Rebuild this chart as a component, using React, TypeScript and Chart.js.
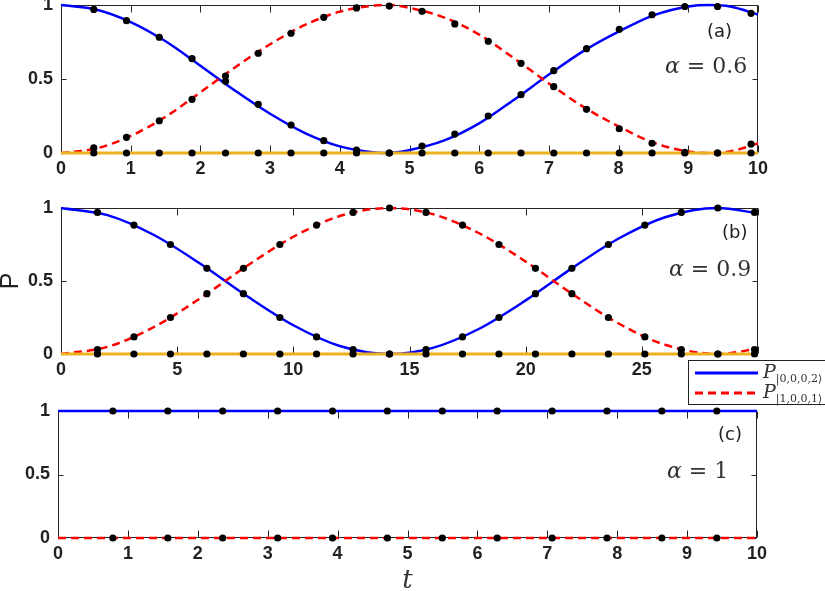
import React, { useEffect, useRef } from "react";
import { Chart, registerables } from "chart.js";

Chart.register(...registerables);

// ---------------- Panel (a): alpha = 0.6 ----------------
const tCurveA = [0, 0.5, 1, 1.5, 2, 2.5, 3, 3.5, 4, 4.5, 4.7, 5, 5.5, 6, 6.5, 7, 7.5, 8, 8.5, 9, 9.3, 9.6, 10];
const blueCurveA = [1, 0.97, 0.885, 0.755, 0.59, 0.42, 0.265, 0.135, 0.045, 0.004, 0, 0.02, 0.085, 0.2, 0.36, 0.53, 0.69, 0.82, 0.93, 0.99, 1, 0.99, 0.935];
const redCurveA = [0, 0.03, 0.115, 0.245, 0.41, 0.58, 0.735, 0.865, 0.955, 0.996, 1, 0.98, 0.915, 0.8, 0.64, 0.47, 0.31, 0.18, 0.07, 0.01, 0, 0.01, 0.065];
const tFlatA = [0, 10];
const orangeCurveA = [0, 0];
const tDotsA = [0.47, 0.94, 1.41, 1.88, 2.36, 2.83, 3.3, 3.77, 4.24, 4.71, 5.18, 5.65, 6.13, 6.6, 7.07, 7.54, 8.01, 8.48, 8.95, 9.42, 9.9];
const blueDotsA = [0.97, 0.894, 0.782, 0.637, 0.484, 0.329, 0.189, 0.083, 0.02, 0, 0.047, 0.128, 0.25, 0.394, 0.556, 0.705, 0.836, 0.934, 0.99, 0.99, 0.944];
const redDotsA = [0.034, 0.106, 0.218, 0.363, 0.52, 0.674, 0.809, 0.917, 0.98, 0.993, 0.957, 0.872, 0.755, 0.606, 0.448, 0.295, 0.164, 0.066, 0.005, 0, 0.06];
const thirdDotsA = [0, 0, 0, 0, 0, 0, 0, 0, 0, 0, 0, 0, 0, 0, 0, 0, 0, 0, 0, 0, 0];
const xTicksA = [0, 1, 2, 3, 4, 5, 6, 7, 8, 9, 10];

// ---------------- Panel (b): alpha = 0.9 ----------------
const tCurveB = [0, 2, 4, 6, 8, 10, 12, 14.14, 16, 18, 20, 22, 24, 26, 28.27, 30];
const blueCurveB = [1, 0.951, 0.815, 0.618, 0.397, 0.197, 0.055, 0, 0.042, 0.173, 0.367, 0.588, 0.791, 0.937, 1, 0.964];
const redCurveB = [0, 0.049, 0.185, 0.382, 0.603, 0.803, 0.945, 1, 0.958, 0.827, 0.633, 0.412, 0.209, 0.063, 0, 0.036];
const tFlatB = [0, 30];
const orangeCurveB = [0, 0];
const tDotsB = [1.57, 3.14, 4.71, 6.28, 7.85, 9.42, 11.0, 12.57, 14.14, 15.71, 17.28, 18.85, 20.42, 21.99, 23.56, 25.13, 26.7, 28.27, 29.85];
const blueDotsB = [0.97, 0.883, 0.75, 0.587, 0.413, 0.25, 0.117, 0.03, 0, 0.03, 0.117, 0.25, 0.413, 0.587, 0.75, 0.883, 0.97, 1, 0.97];
const redDotsB = [0.03, 0.117, 0.25, 0.413, 0.587, 0.75, 0.883, 0.97, 1, 0.97, 0.883, 0.75, 0.587, 0.413, 0.25, 0.117, 0.03, 0, 0.03];
const thirdDotsB = [0, 0, 0, 0, 0, 0, 0, 0, 0, 0, 0, 0, 0, 0, 0, 0, 0, 0, 0];
const xTicksB = [0, 5, 10, 15, 20, 25, 30];

// ---------------- Panel (c): alpha = 1 ----------------
const tCurveC = [0, 10];
const blueCurveC = [1, 1];
const redCurveC = [0, 0];
const tDotsC = [0.785, 1.571, 2.356, 3.142, 3.927, 4.712, 5.498, 6.283, 7.069, 7.854, 8.639, 9.425];
const blueDotsC = [1, 1, 1, 1, 1, 1, 1, 1, 1, 1, 1, 1];
const redDotsC = [0, 0, 0, 0, 0, 0, 0, 0, 0, 0, 0, 0];
const xTicksC = [0, 1, 2, 3, 4, 5, 6, 7, 8, 9, 10];

const yTicks = [0, 0.5, 1];
const legendSubscripts = ["|0,0,0,2\u27E9", "|1,0,0,1\u27E9"];

const BLUE = "#0000ff";
const RED = "#ff0000";
const ORANGE = "#EDB120";
const AXIS = "#262626";

const pts = (xs: number[], ys: number[]) => xs.map((x, i) => ({ x, y: ys[i] }));

const framePlugin = {
  id: "frame",
  beforeDatasetsDraw(chart: any) {
    const { ctx, chartArea: a, scales } = chart;
    const xs = scales.x;
    const ys = scales.y;
    const L = Math.round(a.left) + 0.5;
    const R = Math.round(a.right) - 0.5;
    const T = Math.round(a.top) + 0.5;
    const B = Math.round(a.bottom) - 0.5;
    ctx.save();
    ctx.strokeStyle = AXIS;
    ctx.lineWidth = 1;
    ctx.strokeRect(L, T, R - L, B - T);
    ctx.beginPath();
    for (const t of xs.ticks) {
      const px = Math.round(xs.getPixelForValue(t.value)) + 0.5;
      ctx.moveTo(px, B);
      ctx.lineTo(px, B - 7);
      ctx.moveTo(px, T);
      ctx.lineTo(px, T + 7);
    }
    for (const t of ys.ticks) {
      const py = Math.round(ys.getPixelForValue(t.value)) + 0.5;
      ctx.moveTo(L, py);
      ctx.lineTo(L + 5, py);
      ctx.moveTo(R, py);
      ctx.lineTo(R - 5, py);
    }
    ctx.stroke();
    ctx.restore();
  },
  afterDraw(chart: any, _a: any, opts: any) {
    const { ctx, chartArea: a } = chart;
    ctx.save();
    ctx.textBaseline = "middle";
    ctx.textAlign = "left";
    ctx.fillStyle = "#222";
    ctx.font = '18px "DejaVu Sans"';
    ctx.fillText(opts.tag, a.right + opts.tagDx, a.top + opts.tagDy);
    ctx.fillStyle = "#333";
    let x = a.right + opts.alphaDx;
    const y = a.top + opts.alphaDy;
    ctx.font = 'italic 22px "DejaVu Serif"';
    ctx.fillText("\u03B1", x, y);
    x += ctx.measureText("\u03B1").width;
    ctx.font = '22px "DejaVu Serif"';
    ctx.fillText(" = " + opts.alpha, x, y);

    if (opts.legend) {
      const bx = 688, by = 168;
      ctx.fillStyle = "#fff";
      ctx.fillRect(bx, by, 150, 45);
      ctx.strokeStyle = "#222";
      ctx.lineWidth = 1;
      ctx.strokeRect(bx + 0.5, by + 0.5, 150, 44);
      const rows = [
        { color: BLUE, dash: [] as number[], sub: legendSubscripts[0], ly: by + 13, base: by + 18 },
        { color: RED, dash: [8, 5], sub: legendSubscripts[1], ly: by + 33, base: by + 38 },
      ];
      for (const r of rows) {
        ctx.beginPath();
        ctx.strokeStyle = r.color;
        ctx.lineWidth = 3;
        ctx.setLineDash(r.dash);
        ctx.moveTo(bx + 7, r.ly);
        ctx.lineTo(bx + 70, r.ly);
        ctx.stroke();
        ctx.setLineDash([]);
        ctx.fillStyle = "#333";
        ctx.textBaseline = "alphabetic";
        ctx.font = 'italic 19px "DejaVu Serif"';
        ctx.fillText("P", bx + 75, r.base);
        const w = ctx.measureText("P").width;
        ctx.font = '11px "DejaVu Serif"';
        ctx.fillText(r.sub, bx + 75 + w, r.base + 4);
      }
    }
    ctx.restore();
  },
};

type Spec = {
  curves: { t: number[]; blue: number[]; red: number[]; flatT?: number[]; orange?: number[] };
  dots: { t: number[]; series: number[][] };
  xMax: number;
  xTicks: number[];
  padTop: number;
  padRight: number;
  yWidth: number;
  xHeight: number;
  yTitle?: string;
  xTitle?: string;
  frame: any;
};

function makeConfig(s: Spec): any {
  const datasets: any[] = [];
  s.dots.series.forEach((vals, i) => {
    datasets.push({
      label: "dots" + i,
      data: pts(s.dots.t, vals),
      showLine: false,
      pointRadius: 3.6,
      pointHoverRadius: 3.6,
      pointBackgroundColor: "#000",
      pointBorderWidth: 0,
      order: 0,
      clip: false,
    });
  });
  if (s.curves.orange && s.curves.flatT) {
    datasets.push({
      label: "third",
      data: pts(s.curves.flatT, s.curves.orange),
      borderColor: ORANGE,
      borderWidth: 3,
      pointRadius: 0,
      order: 1,
      clip: false,
    });
  }
  datasets.push({
    label: "P|1,0,0,1>",
    data: pts(s.curves.t, s.curves.red),
    borderColor: RED,
    borderWidth: 2.5,
    borderDash: [8, 5],
    pointRadius: 0,
    cubicInterpolationMode: "monotone",
    order: 2,
    clip: false,
  });
  datasets.push({
    label: "P|0,0,0,2>",
    data: pts(s.curves.t, s.curves.blue),
    borderColor: BLUE,
    borderWidth: 2.5,
    pointRadius: 0,
    cubicInterpolationMode: "monotone",
    order: 3,
    clip: false,
  });

  const tickFont = { family: '"Liberation Sans", Arial, sans-serif', size: 18, weight: "bold" };

  return {
    type: "line",
    data: { datasets },
    plugins: [framePlugin],
    options: {
      animation: false,
      responsive: true,
      maintainAspectRatio: false,
      events: [],
      layout: { padding: { left: 0, right: s.padRight, top: s.padTop, bottom: 0 } },
      plugins: {
        legend: { display: false },
        tooltip: { enabled: false },
        frame: s.frame,
      },
      scales: {
        x: {
          type: "linear",
          min: 0,
          max: s.xMax,
          grid: { display: false, drawTicks: false },
          border: { display: false },
          ticks: {
            font: tickFont,
            color: "#222",
            padding: 5,
            autoSkip: false,
            maxRotation: 0,
            callback: (v: number) => String(v),
          },
          afterBuildTicks: (sc: any) => {
            sc.ticks = s.xTicks.map((v) => ({ value: v }));
          },
          afterFit: (sc: any) => {
            sc.height = s.xHeight;
            sc.paddingLeft = 0;
            sc.paddingRight = 0;
          },
          title: s.xTitle
            ? {
                display: true,
                text: s.xTitle,
                color: "#333",
                font: { family: '"DejaVu Serif", serif', style: "italic", size: 26, lineHeight: 0.77 },
                padding: 0,
              }
            : { display: false },
        },
        y: {
          type: "linear",
          min: 0,
          max: 1,
          grid: { display: false, drawTicks: false },
          border: { display: false },
          ticks: { font: tickFont, color: "#222", padding: 8, callback: (v: number) => String(v) },
          afterBuildTicks: (sc: any) => {
            sc.ticks = yTicks.map((v) => ({ value: v }));
          },
          afterFit: (sc: any) => {
            sc.width = s.yWidth;
            sc.paddingTop = 0;
            sc.paddingBottom = 0;
          },
          title: s.yTitle
            ? {
                display: true,
                text: s.yTitle,
                color: "#222",
                font: { family: '"Liberation Sans", Arial, sans-serif', size: 25, lineHeight: 0.9 },
                padding: 0,
              }
            : { display: false },
        },
      },
    },
  };
}

const specA: Spec = {
  curves: { t: tCurveA, blue: blueCurveA, red: redCurveA, flatT: tFlatA, orange: orangeCurveA },
  dots: { t: tDotsA, series: [blueDotsA, redDotsA, thirdDotsA] },
  xMax: 10,
  xTicks: xTicksA,
  padTop: 5,
  padRight: 67,
  yWidth: 61,
  xHeight: 39,
  frame: { tag: "(a)", tagDx: -51, tagDy: 27, alpha: "0.6", alphaDx: -93, alphaDy: 62, legend: false },
};

const specB: Spec = {
  curves: { t: tCurveB, blue: blueCurveB, red: redCurveB, flatT: tFlatB, orange: orangeCurveB },
  dots: { t: tDotsB, series: [blueDotsB, redDotsB, thirdDotsB] },
  xMax: 30,
  xTicks: xTicksB,
  padTop: 16,
  padRight: 67,
  yWidth: 61,
  xHeight: 54,
  yTitle: "P",
  frame: { tag: "(b)", tagDx: -36, tagDy: 25, alpha: "0.9", alphaDx: -89, alphaDy: 62, legend: true },
};

const specC: Spec = {
  curves: { t: tCurveC, blue: blueCurveC, red: redCurveC },
  dots: { t: tDotsC, series: [blueDotsC, redDotsC] },
  xMax: 10,
  xTicks: xTicksC,
  padTop: 11,
  padRight: 68,
  yWidth: 58,
  xHeight: 53,
  xTitle: "t",
  frame: { tag: "(c)", tagDx: -39, tagDy: 24, alpha: "1", alphaDx: -90, alphaDy: 61, legend: false },
};

export default function App() {
  const refA = useRef<HTMLCanvasElement>(null);
  const refB = useRef<HTMLCanvasElement>(null);
  const refC = useRef<HTMLCanvasElement>(null);

  useEffect(() => {
    const charts = [
      new Chart(refA.current as HTMLCanvasElement, makeConfig(specA)),
      new Chart(refB.current as HTMLCanvasElement, makeConfig(specB)),
      new Chart(refC.current as HTMLCanvasElement, makeConfig(specC)),
    ];
    return () => charts.forEach((c) => c.destroy());
  }, []);

  const box = (top: number, height: number): React.CSSProperties => ({
    position: "absolute",
    left: 0,
    top,
    width: 825,
    height,
  });

  return (
    <div style={{ position: "absolute", left: 0, top: 0, width: 825, height: 591, background: "#fff", overflow: "hidden" }}>
      <div style={box(0, 192)}>
        <canvas ref={refA} />
      </div>
      <div style={box(192, 216)}>
        <canvas ref={refB} />
      </div>
      <div style={box(400, 191)}>
        <canvas ref={refC} />
      </div>
    </div>
  );
}
